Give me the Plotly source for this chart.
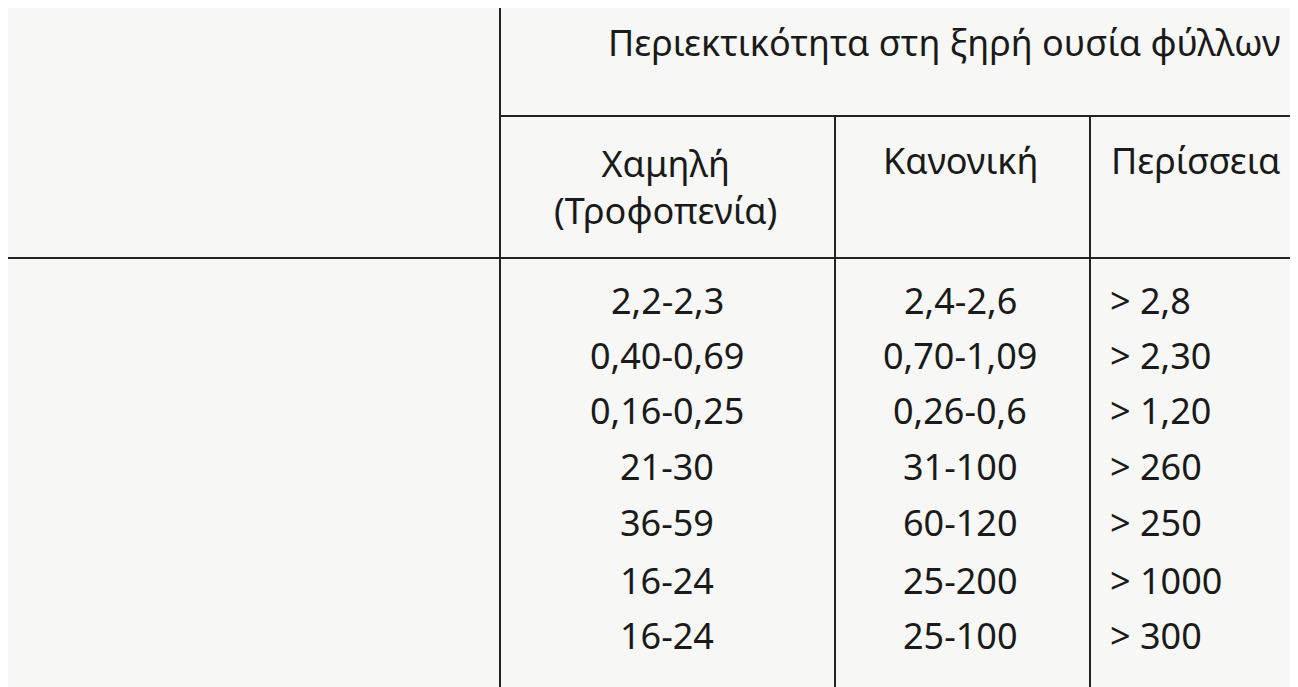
import plotly.graph_objects as go

nutrients = ["Άζωτο (N, %)", "Κάλιο (K, %)", "Μαγνήσιο (Mg, %)", "Βόριο (B, ppm)",
             "Σίδηρος (Fe, ppm)", "Μαγγάνιο (Mn, ppm)", "Ψευδάργυρος (Zn, ppm)"]
low = ["2,2-2,3", "0,40-0,69", "0,16-0,25", "21-30", "36-59", "16-24", "16-24"]
normal = ["2,4-2,6", "0,70-1,09", "0,26-0,6", "31-100", "60-120", "25-200", "25-100"]
excess = ["> 2,8", "> 2,30", "> 1,20", "> 260", "> 250", "> 1000", "> 300"]
header_top = "Περιεκτικότητα στη ξηρή ουσία φύλλων"
header_left = ["θρεπτικό", "στοιχείο (% ή ppm)"]
header_cols = ["Χαμηλή<br>(Τροφοπενία)", "Κανονική", "Περίσσεια"]

row_y = [300, 355, 410, 466, 522, 580, 635]
F = dict(family="Noto Sans", size=36, color="#1a1a1a")
ann = []
def A(x, y, t, xa="center"):
    ann.append(dict(x=x - 8, y=y - 8, text=t, showarrow=False, xanchor=xa, yanchor="middle",
                    xref="x", yref="y", font=F))
A(944, 42, header_top)
A(6, 135, header_left[0], "left")
A(6, 190, header_left[1], "left")
A(665, 187, header_cols[0])
A(960, 160, header_cols[1])
A(1195, 160, header_cols[2])
for i, y in enumerate(row_y):
    A(6, y, nutrients[i], "left")
    A(667, y, low[i])
    A(960, y, normal[i])
    A(1108, y, excess[i], "left")

L = dict(color="#222", width=2)
o = 8
shapes = [
    dict(type="line", x0=500 - o, x1=1310, y0=116 - o, y1=116 - o, line=L),
    dict(type="line", x0=-10, x1=1310, y0=258 - o, y1=258 - o, line=L),
    dict(type="line", x0=500 - o, x1=500 - o, y0=-10, y1=700, line=L),
    dict(type="line", x0=835 - o, x1=835 - o, y0=116 - o, y1=700, line=L),
    dict(type="line", x0=1090 - o, x1=1090 - o, y0=116 - o, y1=700, line=L),
]
fig = go.Figure()
fig.update_layout(width=1298, height=687, margin=dict(l=0, r=0, t=0, b=0),
                  paper_bgcolor="#f7f7f5", plot_bgcolor="#f7f7f5",
                  xaxis=dict(range=[0, 1298], visible=False),
                  yaxis=dict(range=[687, 0], visible=False),
                  annotations=ann, shapes=shapes, showlegend=False)
fig.write_html("out.html")
